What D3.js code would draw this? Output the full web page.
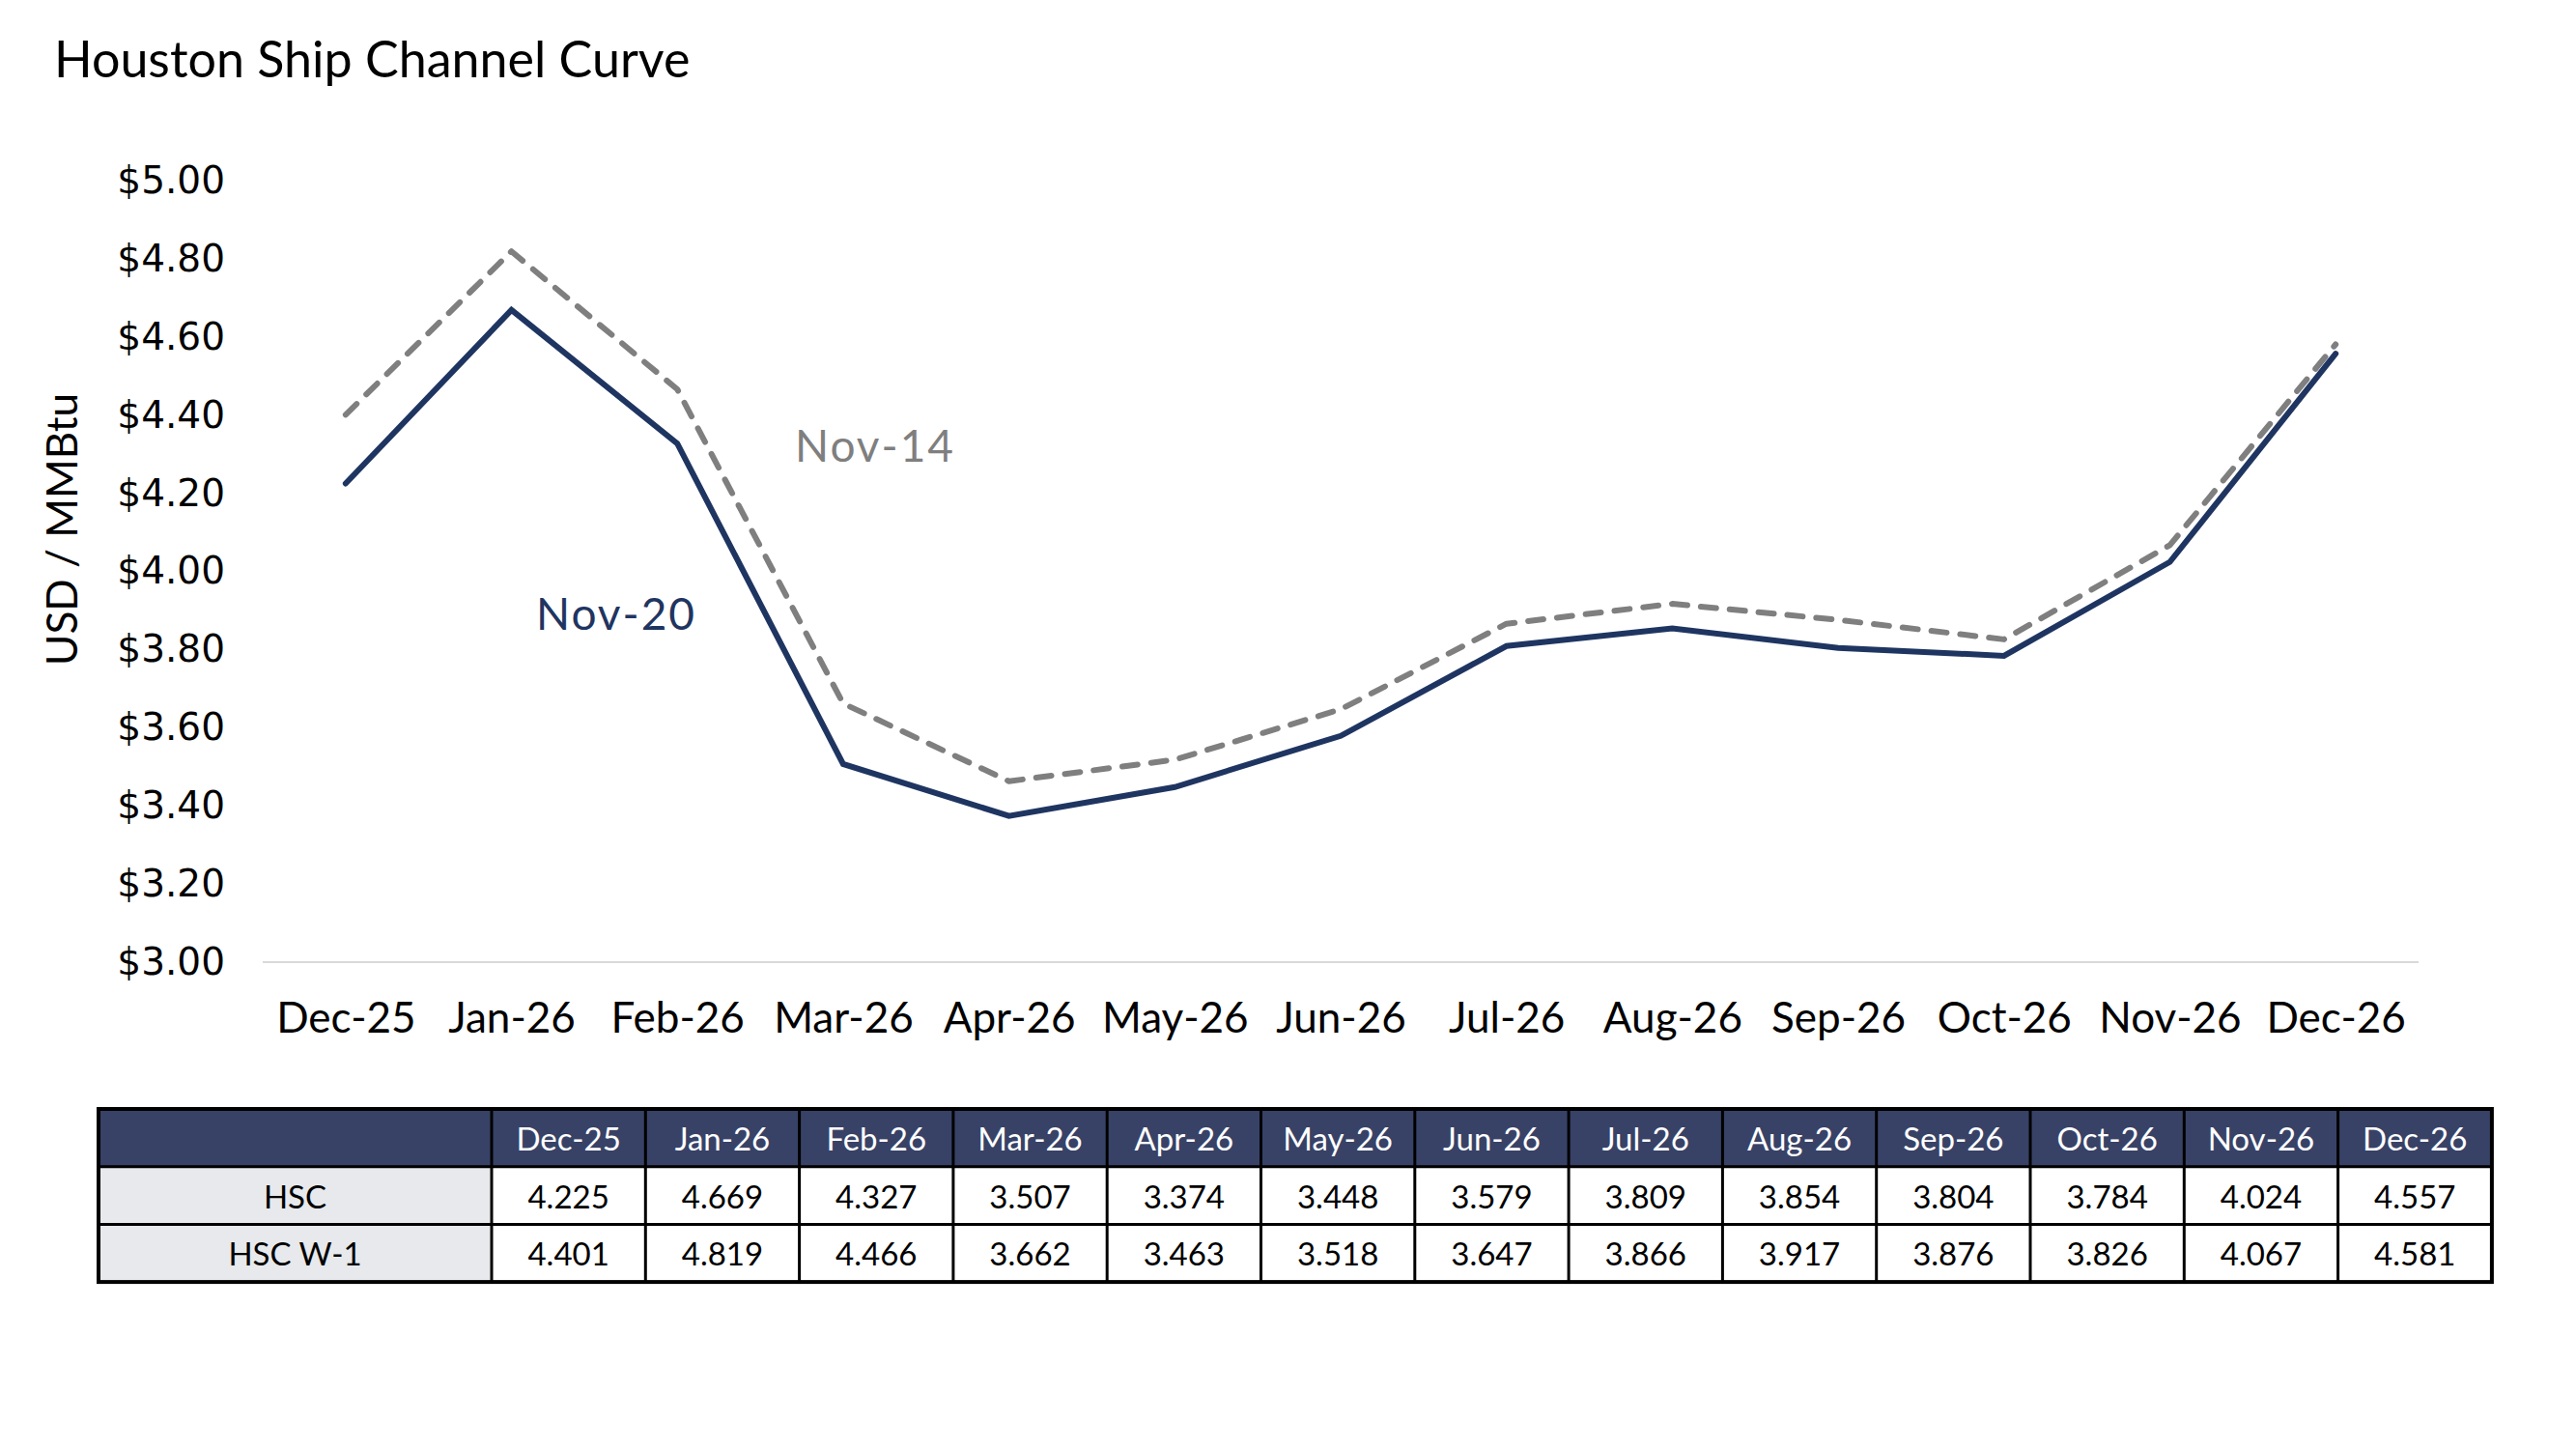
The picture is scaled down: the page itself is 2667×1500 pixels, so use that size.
<!DOCTYPE html>
<html>
<head>
<meta charset="utf-8">
<script src="https://cdn.jsdelivr.net/npm/d3@7"></script>
<style>
  body { margin: 0; background: #fff; }
  svg { display: block; }
</style>
</head>
<body>
<svg id="chart"></svg>
<script>
// data
const months = ["Dec-25", "Jan-26", "Feb-26", "Mar-26", "Apr-26", "May-26", "Jun-26",
                "Jul-26", "Aug-26", "Sep-26", "Oct-26", "Nov-26", "Dec-26"];
const hsc   = [4.225, 4.669, 4.327, 3.507, 3.374, 3.448, 3.579, 3.809, 3.854, 3.804, 3.784, 4.024, 4.557];
const hscW1 = [4.401, 4.819, 4.466, 3.662, 3.463, 3.518, 3.647, 3.866, 3.917, 3.876, 3.826, 4.067, 4.581];
const rowNames = ["HSC", "HSC W-1"];
const yTicks = [3.0, 3.2, 3.4, 3.6, 3.8, 4.0, 4.2, 4.4, 4.6, 4.8, 5.0];

const W = 2667, H = 1500;
const font = "Lato, 'Open Sans', sans-serif";
const navy = "#1f3561", grey = "#7f7f7f";

const svg = d3.select("#chart").attr("width", W).attr("height", H);

//title
svg.append("text")
    .attr("x", 56).attr("y", 80)
    .style("font-family", font).style("font-size", "52px")
    .text("Houston Ship Channel Curve");

//scales
const x = d3.scalePoint().domain(months).range([272, 2504]).padding(0.5);
const y = d3.scaleLinear().domain([3, 5]).range([996, 187]);

//baseline gridline
svg.append("line")
    .attr("x1", 272).attr("x2", 2504)
    .attr("y1", y(3)).attr("y2", y(3))
    .style("stroke", "#d9d9d9").style("stroke-width", 2);

//y axis
const yAxis = svg.append("g")
    .attr("transform", "translate(272,0)")
    .call(d3.axisLeft(y).tickValues(yTicks).tickSize(0).tickPadding(39)
        .tickFormat(d => "$" + d.toFixed(2)));
yAxis.select(".domain").remove();
yAxis.selectAll("text")
    .style("font-family", "'DejaVu Sans', sans-serif")
    .style("font-size", "39px")
    .style("fill", "#000");

//x axis
const xAxis = svg.append("g")
    .attr("transform", `translate(0,${y(3)})`)
    .call(d3.axisBottom(x).tickSize(0).tickPadding(42));
xAxis.select(".domain").remove();
xAxis.selectAll("text")
    .style("font-family", font)
    .style("font-size", "44px")
    .style("fill", "#000");

//y axis title
svg.append("text")
    .attr("transform", "translate(80,548) rotate(-90)")
    .attr("text-anchor", "middle")
    .style("font-family", font).style("font-size", "44px")
    .text("USD / MMBtu");

//lines
const line = d3.line().x((d, i) => x(months[i])).y(d => y(d));

svg.append("path")
    .datum(hscW1)
    .attr("d", line)
    .style("fill", "none")
    .style("stroke", grey)
    .style("stroke-width", 6)
    .style("stroke-dasharray", "16,14")
    .style("stroke-linecap", "round")
    .style("stroke-linejoin", "round");

svg.append("path")
    .datum(hsc)
    .attr("d", line)
    .style("fill", "none")
    .style("stroke", navy)
    .style("stroke-width", 6)
    .style("stroke-linecap", "round");

//series labels
svg.append("text")
    .attr("x", 823).attr("y", 478)
    .style("font-family", font).style("font-size", "46px")
    .style("letter-spacing", "2px").style("fill", grey)
    .text("Nov-14");
svg.append("text")
    .attr("x", 555).attr("y", 652)
    .style("font-family", font).style("font-size", "46px")
    .style("letter-spacing", "2px").style("fill", navy)
    .text("Nov-20");

//data table
const tLeft = 102, tTop = 1148, firstW = 407, colW = 159.3, rowH = 59.7;
const table = svg.append("g");
const rows = [hsc, hscW1];

//header row
table.append("rect")
    .attr("x", tLeft).attr("y", tTop)
    .attr("width", firstW + colW * months.length).attr("height", rowH)
    .style("fill", "#384266");
table.selectAll(".hdr")
    .data(months)
    .join("text")
    .attr("class", "hdr")
    .attr("x", (d, i) => tLeft + firstW + colW * (i + 0.5))
    .attr("y", tTop + rowH / 2)
    .attr("text-anchor", "middle").attr("dominant-baseline", "central")
    .style("font-family", font).style("font-size", "33px").style("fill", "#fff")
    .text(d => d);

rows.forEach((vals, r) => {
    const ry = tTop + rowH * (r + 1);
    table.append("rect")
        .attr("x", tLeft).attr("y", ry)
        .attr("width", firstW).attr("height", rowH)
        .style("fill", "#e7e9ec");
    table.append("text")
        .attr("x", tLeft + firstW / 2).attr("y", ry + rowH / 2)
        .attr("text-anchor", "middle").attr("dominant-baseline", "central")
        .style("font-family", font).style("font-size", "33px")
        .text(rowNames[r]);
    table.selectAll(".v" + r)
        .data(vals)
        .join("text")
        .attr("class", "v" + r)
        .attr("x", (d, i) => tLeft + firstW + colW * (i + 0.5))
        .attr("y", ry + rowH / 2)
        .attr("text-anchor", "middle").attr("dominant-baseline", "central")
        .style("font-family", font).style("font-size", "33px")
        .text(d => d.toFixed(3));
});

//grid lines of the table
const tRight = tLeft + firstW + colW * months.length;
const tBottom = tTop + rowH * 3;
for (let r = 1; r < 3; r++) {
    table.append("line")
        .attr("x1", tLeft).attr("x2", tRight)
        .attr("y1", tTop + rowH * r).attr("y2", tTop + rowH * r)
        .style("stroke", "#000").style("stroke-width", 3);
}
for (let c = 0; c < months.length; c++) {
    const cx = tLeft + firstW + colW * c;
    table.append("line")
        .attr("x1", cx).attr("x2", cx)
        .attr("y1", tTop).attr("y2", tBottom)
        .style("stroke", "#000").style("stroke-width", 3);
}
table.append("rect")
    .attr("x", tLeft).attr("y", tTop)
    .attr("width", tRight - tLeft).attr("height", tBottom - tTop)
    .style("fill", "none").style("stroke", "#000").style("stroke-width", 4);
</script>
</body>
</html>
